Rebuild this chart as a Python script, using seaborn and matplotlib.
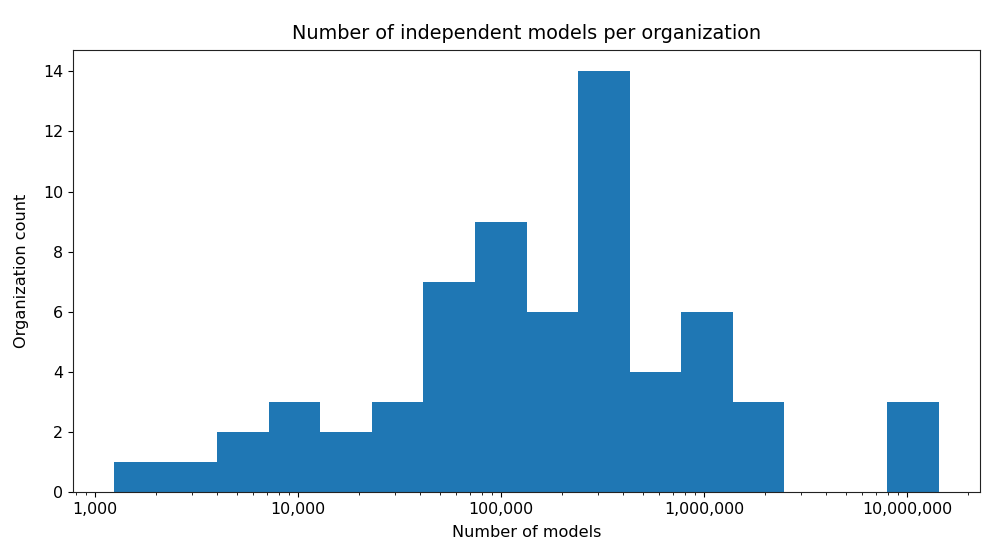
import numpy as np
import pandas as pd
import matplotlib
matplotlib.use("Agg")
import matplotlib.pyplot as plt
import seaborn as sns
from matplotlib.ticker import FuncFormatter

# histogram: 16 log-spaced bins
bin_lo = 1240
bin_hi = 14.3e6
n_bins = 16
counts = [1, 1, 2, 3, 2, 3, 7, 9, 6, 14, 4, 6, 3, 0, 0, 3]

edges = np.logspace(np.log10(bin_lo), np.log10(bin_hi), n_bins + 1)
centers = np.sqrt(edges[:-1] * edges[1:])
df = pd.DataFrame({'Models': centers, 'Count': counts})

sns.set_style("ticks", rc={'text.color': 'black', 'axes.labelcolor': 'black',
                           'xtick.color': 'black', 'ytick.color': 'black',
                           'axes.edgecolor': 'black'})
plt.rcParams['font.family'] = ['DejaVu Sans']

fig = plt.figure(figsize=(10, 5.58), dpi=100)
ax = fig.add_axes([0.073, 0.118, 0.907, 0.792])
sns.histplot(data=df, x='Models', weights='Count', bins=edges.tolist(), ax=ax,
             color='#1f77b4', alpha=1, edgecolor='none', linewidth=0)
ax.set_xscale('log')
ax.margins(x=0.05)
ax.xaxis.set_major_formatter(FuncFormatter(lambda v, p: f'{int(round(v)):,}'))
ax.set_title('Number of independent models per organization', fontsize=13.9, pad=8)
ax.set_xlabel('Number of models', fontsize=11.6, labelpad=6)
ax.set_ylabel('Organization count', fontsize=11.6, labelpad=10)
ax.tick_params(labelsize=11.4)
for s in ax.spines.values():
    s.set_visible(True)
    s.set_color('#222222')

fig.savefig('out.png', dpi=100)
